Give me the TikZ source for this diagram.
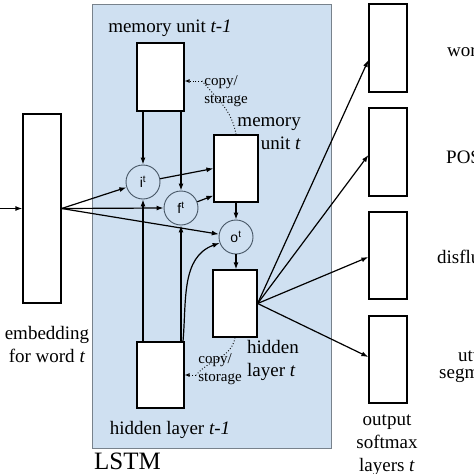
\documentclass[tikz,border=0pt]{standalone}
\usepackage{fontspec}
\setmainfont{Liberation Serif}
\setsansfont{Liberation Sans}
\usetikzlibrary{arrows.meta,calc}
\definecolor{lstmfill}{RGB}{207,224,241}
\definecolor{lstmdraw}{RGB}{120,130,140}
\definecolor{gatedraw}{RGB}{70,85,100}
\begin{document}
\begin{tikzpicture}[x=1pt,y=-1pt,
  box/.style={draw=black,fill=white,line width=1.2pt,inner sep=0pt},
  gate/.style={circle,draw=gatedraw,fill=lstmfill,line width=0.9pt,minimum size=34pt,inner sep=0pt,font=\fontsize{14}{14}\sffamily},
  lbl/.style={inner sep=0pt,font=\fontsize{19}{23}\selectfont},
  small/.style={inner sep=0pt,align=left,font=\fontsize{15}{18}\selectfont},
  arr/.style={-{Latex[length=7pt,width=5pt]},line width=1.2pt},
  dotarr/.style={-{Latex[length=5pt,width=4pt,open]},dotted,line width=0.9pt},
  dotline/.style={dotted,line width=0.9pt}]
\useasboundingbox (0,0) rectangle (474,474);
% LSTM region
\node[draw=lstmdraw,fill=lstmfill,line width=1pt,minimum width=239pt,minimum height=444pt,inner sep=0pt] (lstm) at (211.5,226) {};
\node[inner sep=0pt,anchor=west,font=\fontsize{25}{25}\selectfont] (lstmlbl) at (94,461) {LSTM};
% boxes
\node[box,minimum width=38pt,minimum height=189pt] (emb) at (42,208.5) {};
\node[box,minimum width=47pt,minimum height=68pt] (mt1) at (160.5,77) {};
\node[box,minimum width=44pt,minimum height=67pt] (mt) at (236,168.5) {};
\node[box,minimum width=47pt,minimum height=66pt] (ht1) at (160.5,375) {};
\node[box,minimum width=44pt,minimum height=67pt] (ht) at (235,303.5) {};
\node[box,minimum width=38pt,minimum height=88pt] (o1) at (388,48) {};
\node[box,minimum width=38pt,minimum height=88pt] (o2) at (388,152) {};
\node[box,minimum width=38pt,minimum height=87pt] (o3) at (388,255.5) {};
\node[box,minimum width=38pt,minimum height=87pt] (o4) at (388,359.5) {};
% gates
\node[gate] (ig) at (143,182) {i\textsuperscript{t}};
\node[gate] (fg) at (181,208) {f\textsuperscript{t}};
\node[gate] (og) at (236,237) {o\textsuperscript{t}};
% labels
\node[lbl] (lmt1) at (170,28) {memory unit \textit{t-1}};
\node[lbl,align=right,anchor=east] (lmt) at (301,134) {memory\\unit \textit{t}};
\node[lbl,align=left,anchor=west] (lht) at (247,360.5) {hidden\\layer \textit{t}};
\node[lbl] (lht1) at (170,430) {hidden layer \textit{t-1}};
\node[lbl,align=center] (lemb) at (47,344) {embedding\\for word \textit{t}};
\node[lbl,align=center] (lout) at (387,445) {output\\softmax\\layers \textit{t}};
\node[small] (cs1) at (226,91) {copy/\\storage};
\node[small] (cs2) at (220,369) {copy/\\storage};
\node[lbl,anchor=west] (t1) at (447,52) {wor};
\node[lbl,anchor=west] (t2) at (446,157) {POS};
\node[lbl,anchor=west] (t3) at (437,257) {disflu};
\node[inner sep=0pt,anchor=west,align=left,font=\fontsize{19}{17}\selectfont] (t4) at (439,366.5) {\hspace{19pt}utter\\segmen};
% input
\coordinate (in) at (0,208.5);
\draw[arr] (in) -- (emb.west);
\draw[arr] (emb.east) -- (ig);
\draw[arr] (emb.east) -- (fg.west);
\draw[arr] (emb.east) -- (og);
% memory t-1 to gates
\draw[arr] (ig |- mt1.south) -- (ig.north);
\draw[arr] (fg |- mt1.south) -- (fg.north);
% gates to memory t
\draw[arr] (ig) -- (mt.west);
\draw[arr] (fg) -- ($(mt.south west)+(0,-7)$);
\draw[arr] (mt.south -| og) -- (og.north);
% hidden t-1 to gates
\draw[arr] (ig |- ht1.north) -- (ig.south);
\draw[arr] (fg |- ht1.north) -- (fg.south);
\draw[arr] ($(fg |- ht1.north)+(2,0)$) to[out=85,in=200] (og.200);
% o to hidden t
\draw[arr] (og.south) -- (og |- ht.north);
% outputs
\draw[arr] (ht.east) -- ($(o1.west)+(0,12)$);
\draw[arr] (ht.east) -- ($(o2.west)+(0,3)$);
\draw[arr] (ht.east) -- ($(o3.west)+(0,1.5)$);
\draw[arr] (ht.east) -- ($(o4.west)+(0,-2.5)$);
% copy/storage
\coordinate (cs1a) at ($(cs1.west)+(-2,-10)$);
\draw[dotline] (mt.north) to[out=100,in=-50] (cs1a);
\draw[dotarr] (cs1a) -- (cs1a -| mt1.east);
\coordinate (cs2a) at ($(cs2.west)+(-2,6)$);
\draw[dotline] (ht.south) to[out=-100,in=50] (cs2a);
\draw[dotarr] (cs2a) -- (cs2a -| ht1.east);
\end{tikzpicture}
\end{document}
